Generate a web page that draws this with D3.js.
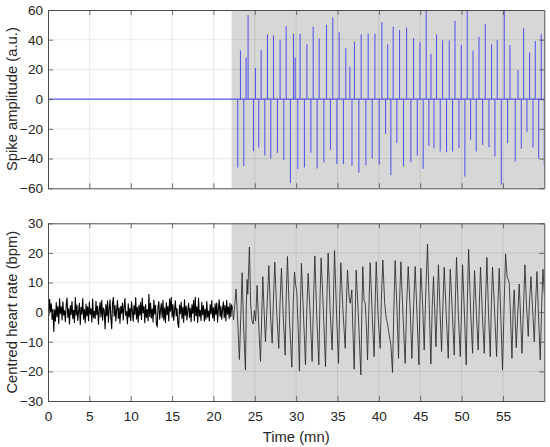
<!DOCTYPE html>
<html>
<head>
<meta charset="utf-8">
<script src="https://cdn.jsdelivr.net/npm/d3@7"></script>
<style>
  body { margin: 0; background: #fff; }
  svg { display: block; font-family: "Liberation Sans", Arial, sans-serif; }
</style>
</head>
<body>
<svg id="chart" width="550" height="447"></svg>
<script>
const timeTicks = [0, 5, 10, 15, 20, 25, 30, 35, 40, 45, 50, 55];
const spikeTicks = [-60, -40, -20, 0, 20, 40, 60];
const hrTicks = [-30, -20, -10, 0, 10, 20, 30];
const stimOnset = 22.2;

// spike events: [time (mn), amplitude (a.u.)]
const spikes = [
  [22.94, -46], [23.27, 32.7], [23.67, -45], [23.95, 28], [24.19, 56.7], [24.84, -35],
  [25.08, 21], [25.48, -32.5], [25.77, 33], [26.21, -38], [26.53, 43.7], [26.93, -40],
  [27.26, 43], [27.74, -36], [28.06, 40], [28.51, -41], [28.79, 49], [29.31, -56.5],
  [29.68, 44], [29.88, 28], [30.2, -47], [30.48, 44], [31.0, -46], [31.3, 37],
  [31.78, -36], [32.06, 48.7], [32.54, -46.6], [32.78, 40.8], [33.35, -42.6], [33.67, 50],
  [34.15, -34], [34.43, 55], [34.92, -43.7], [35.2, 45], [35.72, -43.7], [36.0, 34.3],
  [36.49, 22], [36.75, -45], [37.05, 38.6], [37.58, -49.5], [37.86, 43.6], [38.43, -44.5],
  [38.71, 44], [39.19, -40], [39.52, 44], [40.04, -44], [40.36, 52], [40.81, -23.5],
  [41.07, 37], [41.45, -51.3], [41.73, 48.7], [42.18, -29.6], [42.5, 46.6], [42.98, -45.3],
  [43.35, 48.2], [43.87, -42.4], [44.19, 41], [44.64, -37.9], [44.96, 38.3], [45.36, -46.9],
  [45.72, 60], [46.05, -31.6], [46.3, 30.5], [46.66, -33], [46.97, 43.5], [47.42, -35.2],
  [47.7, 39.5], [48.18, -35.7], [48.51, 39.5], [48.91, -35.2], [49.2, 52.7], [49.68, -33],
  [49.96, 36.5], [50.4, -52], [50.68, 60], [51.09, -27.4], [51.38, 32.7], [51.77, -35.2],
  [52.1, 42], [52.54, -30.7], [52.86, 50.7], [53.31, -32.3], [53.62, 37], [54.03, -38.6],
  [54.31, 39.7], [54.8, -57.6], [55.16, 60], [55.56, -29.6], [55.85, 36.5], [56.49, -42],
  [56.82, 19.7], [57.22, -33.4], [57.5, 47.8], [57.9, -22.2], [58.22, 31.4], [58.63, -32.5],
  [58.91, 39.2], [59.32, -40], [59.63, 43.7], [60, -45]
];

// heart rate before stimulation, one value every 0.1 mn from t = 0
const hrStep = 0.1;
const hrBaseline = [
  1.5, -1.2, 4.3, 0.2, 2.8, -2.5, 1.0, -6.5, 0.8, -3.0,
  3.2, -1.5, 2.0, -3.8, 4.5, -0.5, 1.8, -2.6, 3.5, -1.0,
  0.5, -3.2, 2.5, 4.8, -1.8, 1.2, -4.0, 2.2, -0.8, 3.6,
  -2.2, 0.6, -3.5, 4.9, -1.0, 2.4, -2.8, 0.4, 3.0, -4.2,
  1.6, -0.6, 4.6, -2.4, 0.9, -3.6, 2.7, -1.3, 1.9, -2.9,
  3.4, -0.7, 1.1, -3.3, 4.4, -1.9, 0.3, -2.2, 3.7, -0.9,
  2.1, -4.1, 0.7, 3.3, -1.6, 4.0, -2.7, 1.4, 0.5, -5.7,
  2.6, -1.2, 3.8, -3.4, 1.0, 4.2, -2.0, -5.5, 2.9, 5.0,
  -1.4, 2.3, -3.0, 0.8, 3.9, -2.1, 1.5, -3.7, 2.0, -0.4,
  3.1, -2.6, 1.7, 4.6, -1.1, 0.2, -3.9, 2.8, -1.7, 1.3,
  -2.8, 3.5, 0.4, -3.1, 2.2, -0.8, 4.9, -2.3, 1.6, -3.4,
  2.4, -1.0, 3.3, -2.5, 4.8, -0.3, 1.9, -3.6, 2.6, -1.8,
  0.9, -2.9, 6.0, -1.5, 3.0, -2.0, 1.1, -3.3, 4.1, -0.6,
  2.3, -3.8, -5.0, 1.8, 3.6, -2.4, 0.5, 2.9, -1.9, 4.0,
  -2.7, 1.4, -3.5, 3.2, -0.9, 2.0, -3.0, 4.4, 0.3, 5.0,
  -1.6, 2.6, -2.8, 0.7, 3.8, -1.3, 1.2, -3.9, -5.2, 2.4,
  -0.5, 3.4, -2.2, 1.6, -3.4, 4.2, -1.1, 2.1, -2.6, 0.8,
  3.0, -1.8, 1.3, -3.2, 2.5, -0.4, 4.0, -2.9, 5.0, -1.2,
  1.8, -3.5, 4.8, -1.4, 0.6, -2.8, 3.3, -0.9, 2.2, -3.1,
  1.0, -2.4, 3.6, -1.7, 0.4, -3.0, 2.6, -0.6, 3.9, -2.0,
  1.5, -2.9, 2.8, -0.8, 3.1, -3.3, 1.2, 4.2, -1.5, 2.0,
  -2.4, 0.9, 3.5, -1.9, 2.3, -3.0, 4.0, -0.7, 1.8, -2.2,
  3.0, -1.5, 2.5
];

// heart rate during stimulation: [time (mn), bpm]
const hrStim = [
  [22.3, 1], [22.42, -2.6], [22.6, 3], [22.74, 7.8], [22.95, -4], [23.14, -16],
  [23.3, -2], [23.47, 13.3], [23.65, -5], [23.87, -19.5], [23.97, 2], [24.07, 11],
  [24.15, 6], [24.35, 22], [24.5, 3], [24.64, -2.6], [24.8, -4], [24.96, 0.5],
  [25.1, -3], [25.28, 9], [25.5, -6], [25.69, -16.6], [25.85, 0], [25.97, 12],
  [26.1, 2], [26.29, -10], [26.5, 3], [26.7, 15.7], [26.9, -1], [27.1, -10.5],
  [27.25, 4], [27.42, 16.9], [27.65, 0], [27.9, -12.2], [28.05, 3], [28.22, 14.8],
  [28.45, -2], [28.67, -14.5], [28.8, 5], [28.95, 18.8], [29.2, -3], [29.48, -18.6],
  [29.65, 3], [29.8, 13.5], [29.95, 9], [30.08, 7], [30.25, -6], [30.4, -19.9],
  [30.52, 2], [30.64, 16.5], [30.9, -2], [31.13, -17.8], [31.3, 2], [31.45, 13.1],
  [31.7, -1], [31.93, -16.6], [32.1, 4], [32.26, 19], [32.5, -2], [32.74, -17.8],
  [32.88, 4], [33.02, 18.3], [33.3, 0], [33.55, -18.4], [33.72, 5], [33.87, 20],
  [34.1, 1], [34.35, -12.8], [34.5, 3], [34.64, 20.8], [34.9, -2], [35.12, -17.3],
  [35.27, 3], [35.4, 16.7], [35.65, 1], [35.93, -12.2], [36.07, 3], [36.21, 14.2],
  [36.4, 5], [36.53, 3], [36.73, 7.5], [36.85, -5], [37.02, -19.3], [37.15, 0],
  [37.26, 14.2], [37.55, -3], [37.82, -21.2], [37.95, 2], [38.06, 15.4], [38.2, 4],
  [38.35, 3], [38.5, -5], [38.63, -16.1], [38.8, 2], [38.95, 16.7], [39.2, -1],
  [39.43, -15], [39.55, 3], [39.68, 17], [39.9, -1], [40.16, -12.2], [40.3, 4],
  [40.48, 17.6], [40.7, 3], [40.89, -2], [41.05, -4], [41.21, -7], [41.45, -11],
  [41.65, -20.4], [41.8, 0], [41.97, 17.4], [42.2, 0], [42.38, -15.6], [42.5, 3],
  [42.66, 17], [42.9, 0], [43.18, -17.3], [43.35, 2], [43.55, 15.4], [43.8, 0],
  [43.99, -15.6], [44.2, 2], [44.39, 15.4], [44.6, 0], [44.84, -17.8], [44.95, 2],
  [45.08, 14.8], [45.3, 2], [45.48, -12.8], [45.65, 5], [45.88, 23], [46.1, 1],
  [46.29, -17.5], [46.45, 2], [46.61, 12], [46.75, 1], [46.9, -11.7], [47.05, 2],
  [47.2, 16], [47.4, 0], [47.58, -13.3], [47.75, 3], [47.9, 15.2], [48.15, -1],
  [48.39, -15.6], [48.5, 2], [48.63, 14.5], [48.9, -1], [49.11, -14.5], [49.25, 4],
  [49.39, 18.5], [49.6, 0], [49.84, -15], [50.0, 2], [50.12, 16], [50.35, -1],
  [50.56, -17.8], [50.7, 4], [50.85, 21.2], [51.1, 0], [51.33, -13.9], [51.45, 2],
  [51.57, 14], [51.8, -1], [52.01, -12.8], [52.15, 3], [52.29, 15.2], [52.5, 0],
  [52.74, -13.9], [52.9, 4], [53.06, 18.5], [53.25, 0], [53.47, -15], [53.6, 3],
  [53.74, 15.2], [54.0, 0], [54.23, -15], [54.4, 3], [54.55, 14.8], [54.75, -2],
  [54.95, -19.5], [55.15, 3], [55.32, 19.7], [55.5, 12], [55.76, 10], [55.9, 0],
  [56.09, -15.6], [56.25, 2], [56.37, 7.5], [56.5, -4], [56.61, -12], [56.8, 0],
  [56.97, 9.5], [57.15, -3], [57.3, -13.9], [57.5, 3], [57.66, 16], [57.85, 2],
  [58.06, -8.2], [58.2, 3], [58.39, 12], [58.6, 0], [58.79, -10], [58.95, 3],
  [59.11, 13.7], [59.3, -1], [59.51, -16.1], [59.68, 2], [59.84, 14.5], [60.0, 6]
];

const svg = d3.select("#chart");
const axisColor = "#4d4d4d";
const textColor = "#262626";
const left = 48;
const right = 544.3;
const tickLen = 5;

const x = d3.scaleLinear().domain([0, 60]).range([left, right]);

function drawPanel(opts) {
  const { id, top, bottom, yDomain, yTicks, label, showX } = opts;
  const y = d3.scaleLinear().domain(yDomain).range([bottom, top]);
  const g = svg.append("g");

  g.append("clipPath")
    .attr("id", id)
    .append("rect")
    .attr("x", left)
    .attr("y", top)
    .attr("width", right - left)
    .attr("height", bottom - top);

  g.append("rect")
    .attr("x", x(stimOnset))
    .attr("y", top)
    .attr("width", x(60) - x(stimOnset))
    .attr("height", bottom - top)
    .attr("fill", "#d7d7d7");

  // grid
  g.append("g")
    .selectAll("line.gx")
    .data(timeTicks.filter((t) => t > 0))
    .join("line")
    .attr("x1", (t) => x(t))
    .attr("x2", (t) => x(t))
    .attr("y1", top)
    .attr("y2", bottom)
    .attr("stroke", "#000")
    .attr("stroke-opacity", 0.11)
    .attr("stroke-width", 0.8);

  g.append("g")
    .selectAll("line.gy")
    .data(yTicks.slice(1, -1))
    .join("line")
    .attr("x1", left)
    .attr("x2", right)
    .attr("y1", (v) => y(v))
    .attr("y2", (v) => y(v))
    .attr("stroke", "#000")
    .attr("stroke-opacity", 0.11)
    .attr("stroke-width", 0.8);

  const plot = g.append("g").attr("clip-path", `url(#${id})`);

  // box with inward ticks on all sides
  const styleAxis = (sel) => {
    sel.select(".domain").attr("stroke", axisColor).attr("stroke-width", 1);
    sel.selectAll(".tick line").attr("stroke", axisColor).attr("stroke-width", 0.8);
    sel.selectAll(".tick text")
      .attr("fill", textColor)
      .attr("font-size", 13.6)
      .attr("font-family", '"Liberation Sans", Arial, sans-serif');
  };

  g.append("g")
    .attr("transform", `translate(${left},0)`)
    .call(d3.axisLeft(y).tickValues(yTicks).tickSizeInner(-tickLen).tickSizeOuter(0).tickPadding(5))
    .call(styleAxis);

  g.append("g")
    .attr("transform", `translate(${right},0)`)
    .call(d3.axisRight(y).tickValues(yTicks).tickSizeInner(-tickLen).tickSizeOuter(0).tickFormat(""))
    .call(styleAxis);

  g.append("g")
    .attr("transform", `translate(0,${top})`)
    .call(d3.axisTop(x).tickValues(timeTicks).tickSizeInner(-tickLen).tickSizeOuter(0).tickFormat(""))
    .call(styleAxis);

  g.append("g")
    .attr("transform", `translate(0,${bottom})`)
    .call(
      d3.axisBottom(x)
        .tickValues(timeTicks)
        .tickSizeInner(-tickLen)
        .tickSizeOuter(0)
        .tickPadding(10)
        .tickFormat(showX ? d3.format("d") : "")
    )
    .call(styleAxis);

  g.append("text")
    .attr("transform", `translate(17,${(top + bottom) / 2}) rotate(-90)`)
    .attr("text-anchor", "middle")
    .attr("fill", textColor)
    .attr("font-size", 14.8)
    .text(label);

  return { plot, y };
}

// spike amplitude panel
const topPanel = drawPanel({
  id: "clip-top",
  top: 10,
  bottom: 188.3,
  yDomain: [-60, 60],
  yTicks: spikeTicks,
  label: "Spike amplitude (a.u.)",
  showX: false,
});

const spikePoints = [[0, 0]];
for (const [t, a] of spikes) {
  spikePoints.push([t, 0], [t, a], [t, 0]);
}

const spikeLine = d3
  .line()
  .x((d) => x(d[0]))
  .y((d) => topPanel.y(d[1]));

topPanel.plot
  .append("path")
  .attr("d", spikeLine(spikePoints))
  .attr("fill", "none")
  .attr("stroke", "#3b3bee")
  .attr("stroke-opacity", 0.8)
  .attr("stroke-width", 1.1);

// heart rate panel
const bottomPanel = drawPanel({
  id: "clip-bottom",
  top: 223.3,
  bottom: 401,
  yDomain: [-30, 30],
  yTicks: hrTicks,
  label: "Centred heart rate (bpm)",
  showX: true,
});

const hrLine = d3
  .line()
  .x((d) => x(d[0]))
  .y((d) => bottomPanel.y(d[1]));

bottomPanel.plot
  .append("path")
  .attr("d", hrLine(hrBaseline.map((v, i) => [i * hrStep, v]).concat([hrStim[0]])))
  .attr("fill", "none")
  .attr("stroke", "#000")
  .attr("stroke-width", 1.1)
  .attr("stroke-linejoin", "round");

bottomPanel.plot
  .append("path")
  .attr("d", hrLine(hrStim))
  .attr("fill", "none")
  .attr("stroke", "#2a2a2a")
  .attr("stroke-opacity", 0.85)
  .attr("stroke-width", 1)
  .attr("stroke-linejoin", "round");

svg
  .append("text")
  .attr("x", (left + right) / 2)
  .attr("y", 442)
  .attr("text-anchor", "middle")
  .attr("fill", textColor)
  .attr("font-size", 14.8)
  .text("Time (mn)");
</script>
</body>
</html>
